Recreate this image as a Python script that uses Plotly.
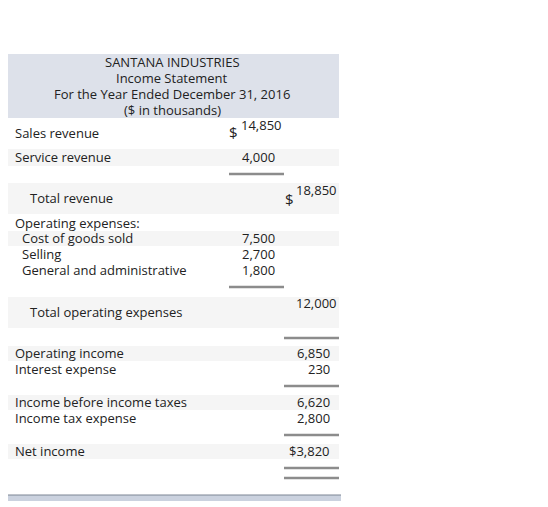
import plotly.graph_objects as go

intro = ["Presented below are the 2016 income statement and comparative balance sheets for",
         "Santana Industries."]
header = ["SANTANA INDUSTRIES", "Income Statement",
          "For the Year Ended December 31, 2016", "($ in thousands)"]
row_labels = ["Sales revenue", "Service revenue", "Total revenue", "Operating expenses:",
              "Cost of goods sold", "Selling", "General and administrative",
              "Total operating expenses", "Operating income", "Interest expense",
              "Income before income taxes", "Income tax expense", "Net income"]
row_values = ["14,850", "4,000", "18,850", "", "7,500", "2,700", "1,800",
              "12,000", "6,850", "230", "6,620", "2,800", "$3,820"]

# layout per row: text y, label x, value x (right edge), value y, band (y0, y1)
row_y = [133, 157, 198, 223, 238, 254, 270, 312, 353, 369, 402, 418, 451]
label_x = [13, 13, 28, 13, 20, 20, 20, 28, 13, 13, 13, 13, 13]
value_x = [284, 277, 339, 0, 277, 277, 277, 339, 332, 332, 332, 332, 332]
value_y = [125, 157, 190, 223, 238, 254, 270, 303, 353, 369, 402, 418, 451]
bands = [None, (149, 166), (183, 214), None, (231, 246), None, None,
         (297, 328), (346, 361), None, (395, 410), None, (444, 459)]
dollar_signs = [(233, 132), (289, 199)]
rules = [(229, 284, 174), (229, 284, 287), (284, 339, 338), (284, 339, 386),
         (284, 339, 435), (284, 339, 468), (284, 339, 478)]

FONT = "Open Sans"
TXT = "#222222"
OFF = 8  # page body margin

fig = go.Figure()
shapes = []
ann = []

shapes.append(dict(type="rect", x0=6, x1=339, y0=54, y1=118,
                   fillcolor="#dde1ea", line_width=0, layer="below"))
for b in bands:
    if b:
        shapes.append(dict(type="rect", x0=6, x1=339, y0=b[0], y1=b[1],
                           fillcolor="#f5f5f5", line_width=0, layer="below"))
for x0, x1, y in rules:
    shapes.append(dict(type="line", x0=x0, x1=x1, y0=y, y1=y,
                       line=dict(color="#8c8c8c", width=2.5)))
shapes.append(dict(type="rect", x0=6, x1=341, y0=495, y1=501,
                   fillcolor="#cbd2df", line_width=0))
shapes.append(dict(type="line", x0=6, x1=341, y0=495, y1=495,
                   line=dict(color="#7d8594", width=1)))
shapes.append(dict(type="line", x0=6, x1=6, y0=495, y1=501,
                   line=dict(color="#7d8594", width=1)))

for i, t in enumerate(intro):
    ann.append(dict(x=6, y=14 + 17 * i, text=t, xanchor="left", font=dict(size=13)))
for i, t in enumerate(header):
    ann.append(dict(x=172, y=62 + 16 * i, text=t, xanchor="center", font=dict(size=13)))
for lab, lx, ly in zip(row_labels, label_x, row_y):
    ann.append(dict(x=lx, y=ly, text=lab, xanchor="left", font=dict(size=13)))
for v, vx, vy in zip(row_values, value_x, value_y):
    if v:
        ann.append(dict(x=vx, y=vy, text=v, xanchor="right", font=dict(size=13)))
for dx, dy in dollar_signs:
    ann.append(dict(x=dx, y=dy, text="$", xanchor="center", font=dict(size=15)))

for a in ann:
    a.update(xref="x", yref="y", yanchor="middle", showarrow=False)
    a["font"].update(family=FONT, color=TXT)

fig.update_layout(
    width=548, height=507, margin=dict(l=0, r=0, t=0, b=0),
    paper_bgcolor="white", plot_bgcolor="white",
    xaxis=dict(range=[OFF, 548 + OFF], visible=False, fixedrange=True),
    yaxis=dict(range=[507 + OFF, OFF], visible=False, fixedrange=True),
    shapes=shapes, annotations=ann, showlegend=False,
)
fig.write_html("out.html")
